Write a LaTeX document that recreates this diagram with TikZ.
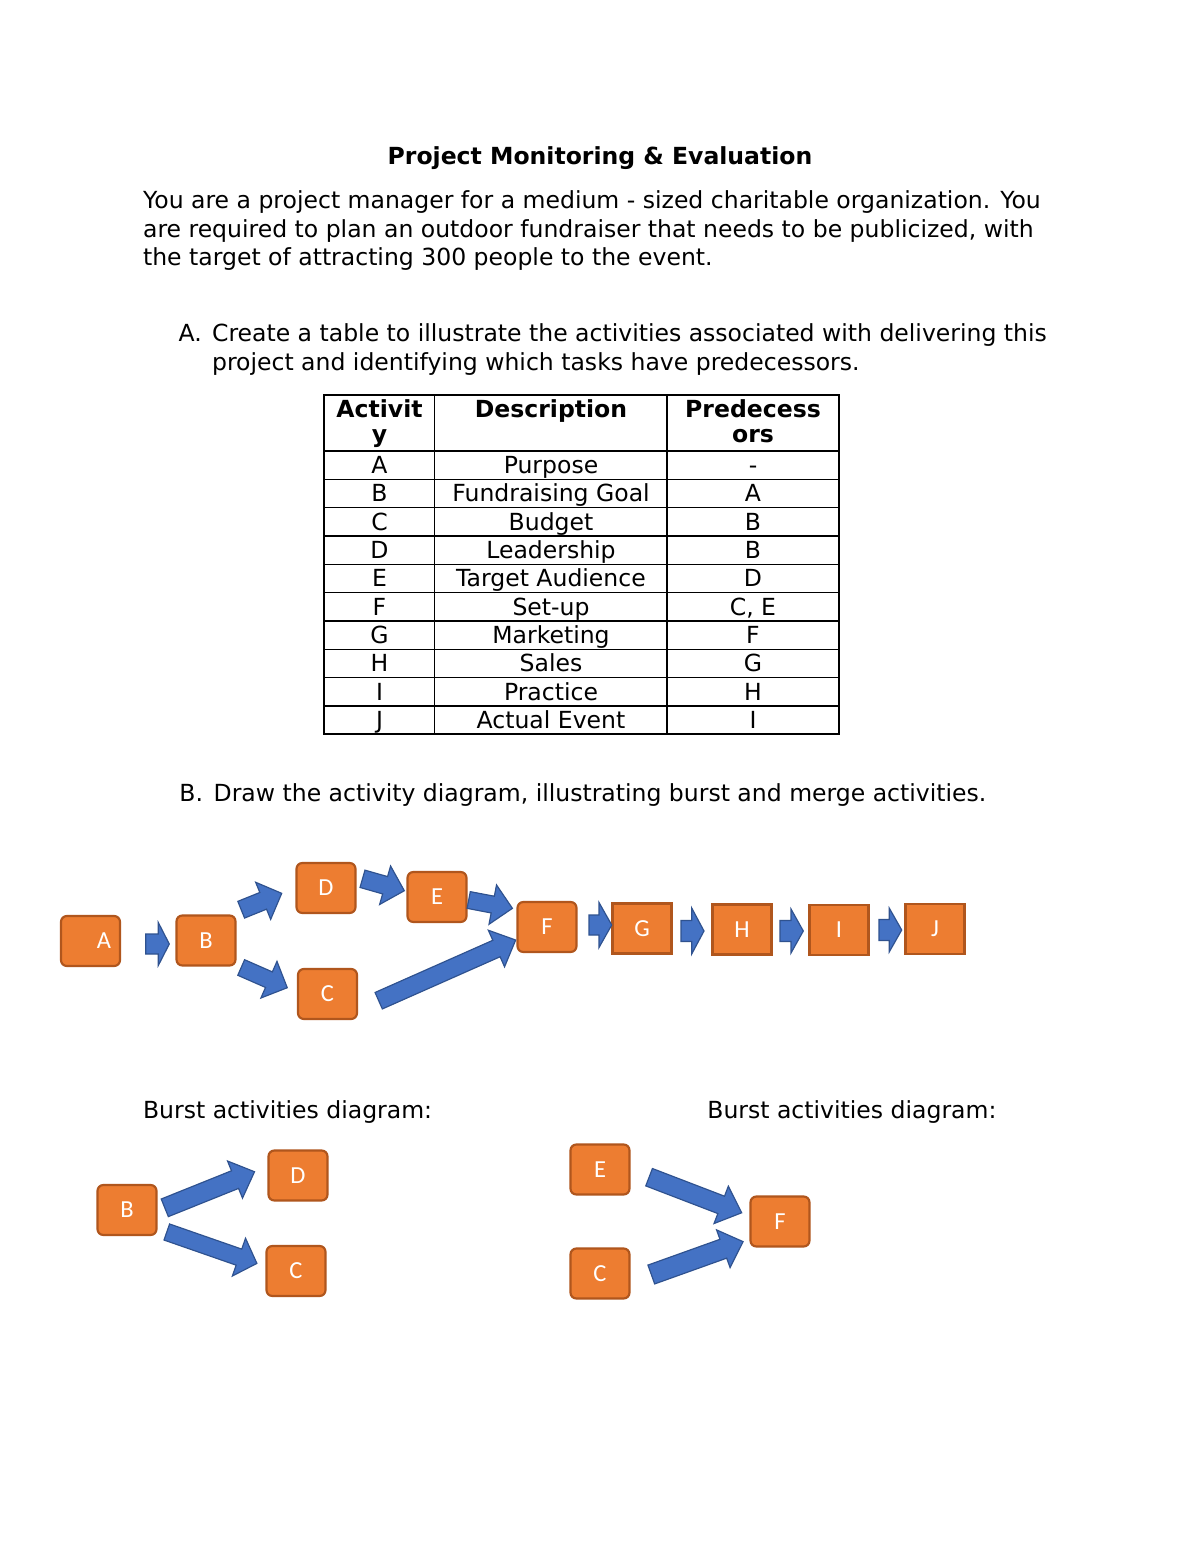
\documentclass[tikz,border=0pt]{standalone}
\usepackage{fontspec}
\setmainfont{DejaVu Sans}
\newfontfamily\boxfont{Carlito}
\definecolor{orfill}{HTML}{ED7D31}
\definecolor{ordraw}{HTML}{B0561D}
\definecolor{blfill}{HTML}{4472C4}
\definecolor{bldraw}{HTML}{2F528F}
\tikzset{
  actbox/.style={draw=ordraw, fill=orfill, line width=1.1pt, rounded corners=3pt,
    minimum width=30.1pt, minimum height=25.5pt, inner sep=0pt, text=white,
    font=\boxfont\fontsize{12.5}{14}\selectfont},
  sqbox/.style={actbox, sharp corners},
  txt/.style={inner sep=0pt, font=\fontsize{12}{14}\selectfont},
  btxt/.style={txt, font=\fontsize{12}{14}\selectfont\bfseries},
  barr/.style={fill=blfill, draw=bldraw, line width=0.6pt},
  tline/.style={line width=0.7pt, black},
  touter/.style={line width=1pt, black}
}
\newcommand\blockarrow[7]{%
  \begin{scope}[shift={(#1,#2)},rotate=#3]
    \path[barr] (0,-#5/2) -- (#4-#7,-#5/2) -- (#4-#7,-#6/2) -- (#4,0)
      -- (#4-#7,#6/2) -- (#4-#7,#5/2) -- (0,#5/2) -- cycle;
  \end{scope}}
\begin{document}
\begin{tikzpicture}[x=0.51pt,y=-0.51pt]
\useasboundingbox[fill=white] (0,0) rectangle (1200,1553);

% ---- heading and text
\node[btxt, anchor=base] (title) at (600,164.3) {Project Monitoring \& Evaluation};
\node[txt, anchor=base west] (p1) at (142.7,209) {You are a project manager for a medium - sized charitable organization. You};
\node[txt, anchor=base west] (p2) at (142.7,237.5) {are required to plan an outdoor fundraiser that needs to be publicized, with};
\node[txt, anchor=base west] (p3) at (142.7,266) {the target of attracting 300 people to the event.};
\node[txt, anchor=base west] (qa) at (178.3,341.7) {A.};
\node[txt, anchor=base west] (qa1) at (211.7,341.7) {Create a table to illustrate the activities associated with delivering this};
\node[txt, anchor=base west] (qa2) at (211.7,370.5) {project and identifying which tasks have predecessors.};
\node[txt, anchor=base west] (qb) at (179,801.7) {B.};
\node[txt, anchor=base west] (qb1) at (213.3,801.7) {Draw the activity diagram, illustrating burst and merge activities.};
\node[txt, anchor=base west] (burst1) at (142.7,1118) {Burst activities diagram:};
\node[txt, anchor=base west] (burst2) at (707,1118) {Burst activities diagram:};

% ---- table
\foreach \yy in {451,479.33,507.67,536,564.33,592.67,621,649.33,677.67,706}
  \draw[tline] (324,\yy) -- (839,\yy);
\draw[tline] (434.5,395) -- (434.5,734.3);
\draw[tline] (667,395) -- (667,734.3);
\draw[touter] (324,395) rectangle (839,734.3);
\node[btxt, anchor=base] (h1a) at (379.5,417.3) {Activit};
\node[btxt, anchor=base] (h1b) at (379.5,442.5) {y};
\node[btxt, anchor=base] (h2) at (551,417.3) {Description};
\node[btxt, anchor=base] (h3a) at (753,417.3) {Predecess};
\node[btxt, anchor=base] (h3b) at (753,442.5) {ors};
\foreach \l/\d/\p [count=\i] in {A/Purpose/-, B/Fundraising Goal/A, C/Budget/B,
    D/Leadership/B, E/Target Audience/D, F/Set-up/{C, E}, G/Marketing/F,
    H/Sales/G, I/Practice/H, J/Actual Event/I}{
  \node[txt, anchor=base] (ca\i) at (379.5,{451+\i*28.333-5.7}) {\l};
  \node[txt, anchor=base] (cd\i) at (551,{451+\i*28.333-5.7}) {\d};
  \node[txt, anchor=base] (cp\i) at (753,{451+\i*28.333-5.7}) {\p};
}

% ---- main activity diagram
\node[actbox] (A) at (90.5,941) {\hspace*{13.8pt}A};
\node[actbox] (B) at (206,940.5) {B};
\node[actbox] (D) at (326,888) {D};
\node[actbox] (C) at (327.5,994) {C};
\node[actbox] (E) at (437,897) {E};
\node[actbox] (F) at (547,927) {F};
\node[sqbox] (G) at (642,928.5) {G};
\node[sqbox] (H) at (742,929.5) {H};
\node[sqbox] (I) at (839,930) {I};
\node[sqbox] (J) at (935,929) {J};

\blockarrow{145.7}{944}{0}{23.6}{20}{43}{11}
\blockarrow{241.2}{909.7}{22}{43.7}{18}{40}{20}
\blockarrow{241.2}{967.5}{-23.7}{50.3}{17}{40}{20}
\blockarrow{362.5}{878.8}{-15.9}{43.5}{18}{40}{20}
\blockarrow{468.7}{900}{-10.8}{44.5}{17}{40}{20}
\blockarrow{378.7}{1000.7}{23.9}{149.8}{18}{40}{21}
\blockarrow{589}{925}{0}{22.7}{20}{45}{12.7}
\blockarrow{681}{931}{0}{23}{21}{46}{12.3}
\blockarrow{780}{931}{0}{23.3}{21}{44}{12.3}
\blockarrow{879}{930}{0}{22.7}{21}{44}{12.5}

% ---- burst diagram
\node[actbox] (B2) at (127,1210) {B};
\node[actbox] (D2) at (298,1175.5) {D};
\node[actbox] (C2) at (296,1271) {C};
\blockarrow{164.8}{1207.8}{21.9}{96.7}{19}{40}{21}
\blockarrow{166.8}{1232}{-19.2}{95.4}{17}{40}{19}

% ---- merge diagram
\node[actbox] (E3) at (600,1169.5) {E};
\node[actbox] (C3) at (600,1273.5) {C};
\node[actbox] (F3) at (780,1221.5) {F};
\blockarrow{649.1}{1177.2}{-21}{99.2}{18.6}{40}{22}
\blockarrow{651.3}{1274.5}{19.7}{97.5}{20}{40}{21}
\end{tikzpicture}
\end{document}
